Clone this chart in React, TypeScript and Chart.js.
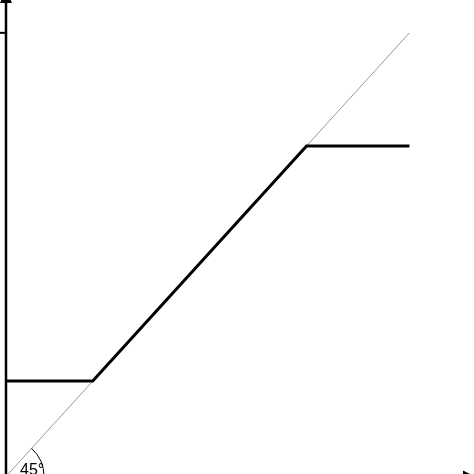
import React, { useEffect, useRef } from "react";
import { Chart, registerables } from "chart.js";

Chart.register(...registerables);

// 45° reference line (y = x)
const diagonalX = [0, 100];
const diagonalY = [0, 100];

// Payoff-style kinked line
const payoffX = [0, 21.5, 74.5, 100];
const payoffY = [21.5, 21.5, 74.5, 74.5];

// Y-axis tick value
const yTickValues = [100];
const angleLabel = "45°";

const X_MAX = 116;
const Y_MAX = 107.4;

const axesPlugin = {
  id: "axesArrows",
  afterDatasetsDraw(chart: any) {
    const { ctx } = chart;
    const xs = chart.scales.x;
    const ys = chart.scales.y;
    const x0 = xs.getPixelForValue(0);
    const y0 = ys.getPixelForValue(0);
    const xEnd = xs.getPixelForValue(X_MAX);
    const yEnd = ys.getPixelForValue(Y_MAX);
    ctx.save();
    ctx.strokeStyle = "#000";
    ctx.fillStyle = "#000";
    ctx.lineWidth = 2.5;
    // y axis
    ctx.beginPath();
    ctx.moveTo(x0, y0);
    ctx.lineTo(x0, yEnd + 3);
    ctx.stroke();
    // x axis
    ctx.beginPath();
    ctx.moveTo(x0, y0);
    ctx.lineTo(xEnd - 10, y0);
    ctx.stroke();
    // y arrow
    ctx.beginPath();
    ctx.moveTo(x0 - 6, yEnd + 3);
    ctx.lineTo(x0 + 6, yEnd + 3);
    ctx.lineTo(x0, yEnd - 10);
    ctx.closePath();
    ctx.fill();
    // x arrow
    ctx.beginPath();
    ctx.moveTo(xEnd - 11, y0 - 6);
    ctx.lineTo(xEnd - 11, y0 + 6);
    ctx.lineTo(xEnd + 1, y0);
    ctx.closePath();
    ctx.fill();
    // y ticks
    ctx.lineWidth = 2;
    yTickValues.forEach((v) => {
      const py = ys.getPixelForValue(v);
      ctx.beginPath();
      ctx.moveTo(x0 - 7, py);
      ctx.lineTo(x0, py);
      ctx.stroke();
    });
    // angle arc
    const dx = xs.getPixelForValue(diagonalX[1]) - x0;
    const dy = y0 - ys.getPixelForValue(diagonalY[1]);
    const ang = Math.atan2(dy, dx);
    ctx.lineWidth = 1;
    ctx.beginPath();
    ctx.arc(x0, y0, 38, -ang, 0);
    ctx.stroke();
    ctx.font = "16px 'Liberation Sans', Arial, sans-serif";
    ctx.textAlign = "left";
    ctx.textBaseline = "alphabetic";
    ctx.fillText(angleLabel, x0 + 14, y0 - 2);
    ctx.restore();
  },
};

export default function App() {
  const ref = useRef<HTMLCanvasElement | null>(null);
  useEffect(() => {
    if (!ref.current) return;
    const chart = new Chart(ref.current, {
      type: "line",
      data: {
        datasets: [
          {
            data: payoffX.map((x, i) => ({ x, y: payoffY[i] })),
            borderColor: "#000",
            borderWidth: 3,
            pointRadius: 0,
            fill: false,
            order: 1,
          },
          {
            data: diagonalX.map((x, i) => ({ x, y: diagonalY[i] })),
            borderColor: "#9a9a9a",
            borderWidth: 1,
            pointRadius: 0,
            fill: false,
            order: 2,
          },
        ],
      },
      options: {
        animation: false,
        responsive: true,
        maintainAspectRatio: false,
        layout: { padding: { left: 6, right: 0, top: 0, bottom: 13.5 } },
        plugins: { legend: { display: false }, tooltip: { enabled: false } },
        scales: {
          x: { type: "linear", min: 0, max: X_MAX, display: false },
          y: { type: "linear", min: 0, max: Y_MAX, display: false },
        },
      },
      plugins: [axesPlugin],
    });
    return () => chart.destroy();
  }, []);
  return (
    <div
      style={{
        position: "fixed",
        left: 0,
        top: 0,
        width: 474,
        height: 490,
        background: "#fff",
      }}
    >
      <canvas ref={ref} />
    </div>
  );
}
